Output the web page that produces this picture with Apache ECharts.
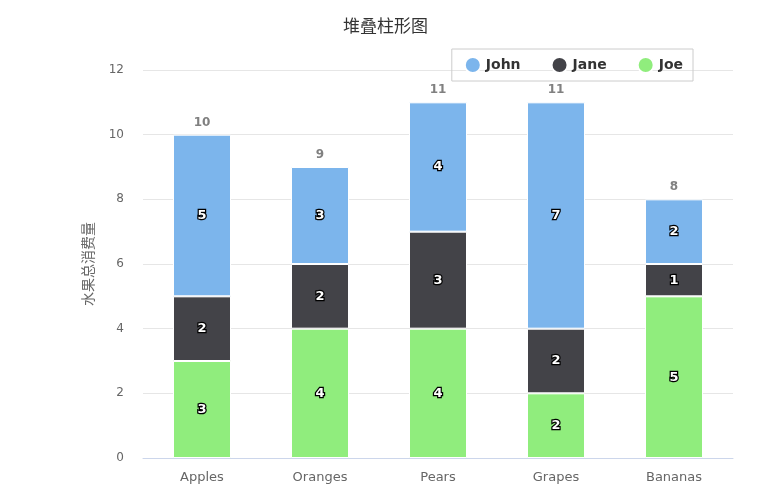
<!DOCTYPE html>
<html>
<head>
<meta charset="utf-8">
<script src="https://cdn.jsdelivr.net/npm/echarts@6/dist/echarts.min.js"></script>
<style>
html, body { margin: 0; padding: 0; background: #fff; }
#main { width: 771px; height: 501px; }
</style>
</head>
<body>
<div id="main"></div>
<script>
var categories = ['Apples', 'Oranges', 'Pears', 'Grapes', 'Bananas'];
var john = [5, 3, 4, 7, 2];
var jane = [2, 2, 3, 2, 1];
var joe = [3, 4, 4, 2, 5];
var yTicks = [0, 2, 4, 6, 8, 10, 12];

var totals = categories.map(function (c, i) {
    return john[i] + jane[i] + joe[i];
});

var font = '"DejaVu Sans", sans-serif';
var myChart = echarts.init(document.getElementById('main'));

var valueLabel = {
    show: true,
    position: 'inside',
    color: '#fff',
    fontWeight: 'bold',
    fontSize: 13,
    fontFamily: font,
    textBorderColor: '#000',
    textBorderWidth: 2.5
};

function barSeries(name, data, color) {
    return {
        name: name,
        type: 'bar',
        stack: 'fruit',
        barWidth: 58,
        data: data,
        itemStyle: { color: color, borderColor: '#fff', borderWidth: 1 },
        label: valueLabel,
        emphasis: { disabled: true }
    };
}

var option = {
    backgroundColor: '#fff',
    animation: false,
    title: {
        text: '堆叠柱形图',
        left: 'center',
        top: 12,
        textStyle: { fontSize: 17, fontWeight: 'normal', color: '#333', fontFamily: 'Noto Sans CJK SC' }
    },
    legend: {
        data: ['John', 'Jane', 'Joe'],
        right: 78,
        top: 49,
        padding: [7, 10, 7, 12],
        borderColor: '#ccc',
        borderWidth: 1,
        icon: 'circle',
        itemWidth: 16,
        itemHeight: 16,
        itemGap: 30,
        textStyle: { fontWeight: 'bold', fontSize: 14, color: '#333', fontFamily: font }
    },
    grid: { left: 143, right: 38, top: 70, bottom: 43 },
    xAxis: {
        type: 'category',
        data: categories,
        axisLine: { lineStyle: { color: '#ccd6eb' } },
        axisTick: { show: false },
        axisLabel: { color: '#666', fontSize: 13, margin: 13, fontFamily: font }
    },
    yAxis: {
        type: 'value',
        min: yTicks[0],
        max: yTicks[yTicks.length - 1],
        interval: 2,
        name: '水果总消费量',
        nameLocation: 'middle',
        nameGap: 48,
        nameTextStyle: { color: '#666', fontSize: 14, fontFamily: 'Noto Sans CJK SC' },
        axisLabel: { color: '#666', fontSize: 12, margin: 19, fontFamily: font },
        splitLine: { lineStyle: { color: '#e6e6e6' } }
    },
    series: [
        barSeries('Joe', joe, '#90ed7d'),
        barSeries('Jane', jane, '#434348'),
        barSeries('John', john, '#7cb5ec'),
        {
            name: 'total',
            type: 'bar',
            stack: 'fruit',
            barWidth: 58,
            data: totals.map(function () { return 0; }),
            itemStyle: { color: 'transparent' },
            label: {
                show: true,
                position: 'top',
                distance: 6,
                color: '#808080',
                fontWeight: 'bold',
                fontSize: 12,
                fontFamily: font,
                formatter: function (p) { return totals[p.dataIndex]; }
            },
            emphasis: { disabled: true }
        }
    ]
};

myChart.setOption(option);
</script>
</body>
</html>
